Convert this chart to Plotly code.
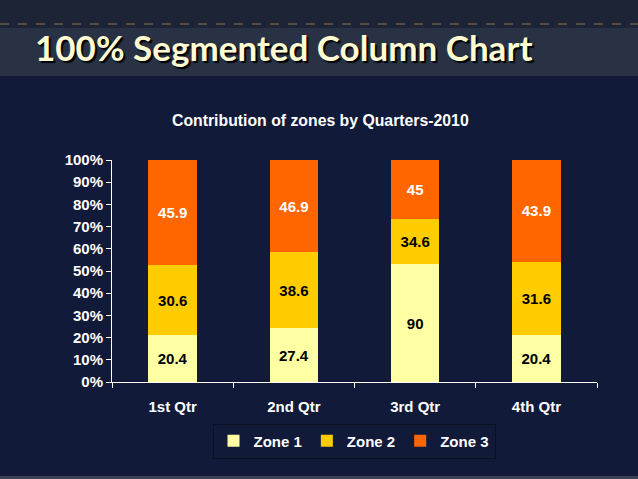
import plotly.graph_objects as go

quarters = ["1st Qtr", "2nd Qtr", "3rd Qtr", "4th Qtr"]
zone1 = [20.4, 27.4, 90, 20.4]
zone2 = [30.6, 38.6, 34.6, 31.6]
zone3 = [45.9, 46.9, 45, 43.9]
series_names = ["Zone 1", "Zone 2", "Zone 3"]
y_ticks = list(range(0, 101, 10))

colors = ["#FFFFA3", "#FFCC00", "#FF6600"]
text_colors = ["#000000", "#000000", "#FFFFFF"]

W, H = 638, 479
ml, mr, mt, mb = 112, 41, 160, 97
pw, ph = W - ml - mr, H - mt - mb

def px_x(x):
    return (x - ml) / pw

def px_y(y):
    return (H - mb - y) / ph

fig = go.Figure()
for name, vals, c, tc in zip(series_names, [zone1, zone2, zone3], colors, text_colors):
    fig.add_trace(go.Bar(
        x=quarters, y=vals, name=name,
        marker=dict(color=c, line=dict(width=0)),
        text=[f"{v:g}" for v in vals],
        textposition="inside", insidetextanchor="middle",
        textfont=dict(color=tc, size=15, family="Liberation Sans", weight="bold"),
        hoverinfo="skip",
    ))

bg = "#111a38"
fig.update_layout(
    barmode="stack", barnorm="percent", bargap=0.6,
    width=W, height=H,
    margin=dict(l=ml, r=mr, t=mt, b=mb),
    paper_bgcolor=bg, plot_bgcolor=bg,
    uniformtext=dict(minsize=15, mode="show"),
    font=dict(family="Liberation Sans", color="white", size=15, weight="bold"),
    showlegend=True,
    legend=dict(orientation="h", traceorder="normal", x=px_x(354), xanchor="center",
                y=px_y(441), yanchor="middle",
                bordercolor="#0a0f22", borderwidth=1, bgcolor="rgba(0,0,0,0)",
                font=dict(size=15, color="white", family="Liberation Sans", weight="bold"),
                itemwidth=30, tracegroupgap=0),
    xaxis=dict(showline=True, linecolor="white", linewidth=1, ticks="outside", tickcolor="white",
               ticklen=5, tickson="boundaries", showgrid=False, zeroline=False,
               tickfont=dict(size=15, color="white"), ticklabelstandoff=11),
    yaxis=dict(range=[0, 100], tickmode="array", tickvals=y_ticks,
               ticktext=[f"{v}%" for v in y_ticks], showline=True, linecolor="white",
               linewidth=1, ticks="outside", tickcolor="white", ticklen=5, showgrid=False,
               zeroline=False, tickfont=dict(size=15, color="white")),
)

shapes = [
    dict(type="rect", xref="paper", yref="paper", x0=px_x(0), x1=px_x(W), y0=px_y(28), y1=px_y(0),
         fillcolor="#1c2436", line=dict(width=0), layer="below"),
    dict(type="rect", xref="paper", yref="paper", x0=px_x(0), x1=px_x(W), y0=px_y(76), y1=px_y(28),
         fillcolor="#283244", line=dict(width=0), layer="below"),
    dict(type="line", xref="paper", yref="paper", x0=px_x(0), x1=px_x(W), y0=px_y(24), y1=px_y(24),
         line=dict(color="#6b5a48", width=1.5, dash="dash"), layer="below"),
    dict(type="rect", xref="paper", yref="paper", x0=px_x(0), x1=px_x(W), y0=px_y(H), y1=px_y(476),
         fillcolor="#3a4256", line=dict(width=0), layer="below"),
]
fig.update_layout(shapes=shapes)

title = "100% Segmented Column Chart"
fig.add_annotation(text=title, xref="paper", yref="paper", x=px_x(33), y=px_y(47),
                   xanchor="left", yanchor="middle", showarrow=False,
                   font=dict(size=35, color="#FFFBD2", family="Lato", weight="bold",
                             shadow="2px 2px 1px #000000"))
fig.add_annotation(text="Contribution of zones by Quarters-2010", xref="paper", yref="paper",
                   x=px_x(320), y=px_y(120), xanchor="center", yanchor="middle", showarrow=False,
                   font=dict(size=15.8, color="white", family="Liberation Sans", weight="bold"))

fig.write_html("out.html")
